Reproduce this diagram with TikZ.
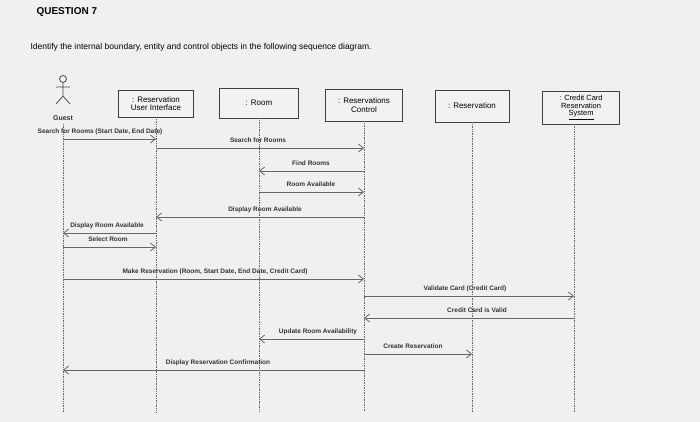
\documentclass[tikz,border=0pt]{standalone}
\usepackage{fontspec}
\setmainfont{Liberation Sans}
\usetikzlibrary{arrows.meta}
\begin{document}
\begin{tikzpicture}[x=1pt,y=-1pt,
 obj/.style={draw=black!75,fill=white!95!black,line width=0.8pt,align=center,font=\fontsize{8}{8.5}\selectfont,inner sep=1pt},
 life/.style={densely dotted,black!60,line width=0.7pt},
 msg/.style={black!60,line width=0.8pt,-{Straight Barb[length=5pt,width=8pt]}},
 lab/.style={font=\fontsize{6.5}{7}\selectfont\bfseries,text=black!80,inner sep=1pt}]
\fill[black!6] (0,0) rectangle (700,422);
\useasboundingbox (0,0) rectangle (700,422);
\node[anchor=west,font=\fontsize{10}{11}\selectfont\bfseries] (t) at (33,12) {QUESTION 7};
\node[anchor=west,font=\fontsize{8.5}{10}\selectfont] (s) at (27,47) {Identify the internal boundary, entity and control objects in the following sequence diagram.};
% actor
\draw[black!70,line width=0.8pt] (63,79) circle (3.5) (63,82.5) -- (63,96) (56,87) -- (70,87) (56,104) -- (63,96) -- (70,104);
\node[lab,font=\fontsize{7}{8}\selectfont\bfseries] (g) at (63,118) {Guest};
\node[obj,minimum width=75,minimum height=27] (ui) at (156,103.5) {: Reservation\\User Interface};
\node[obj,minimum width=79,minimum height=30] (rm) at (259,103) {: Room};
\node[obj,minimum width=77,minimum height=32] (rc) at (364,105) {: Reservations\\Control};
\node[obj,minimum width=74,minimum height=32] (rs) at (472,106) {: Reservation};
\node[obj,minimum width=77,minimum height=33,font=\fontsize{7.5}{7.5}\selectfont] (cc) at (581,107.5) {: Credit Card\\Reservation\\\underline{System}};
\coordinate (g0) at (63,124); \coordinate (g1) at (63,412);
\coordinate (u1) at (156,412); \coordinate (r1) at (259,412);
\coordinate (c1) at (364,412); \coordinate (s1) at (472,412);
\coordinate (k0) at (574,124); \coordinate (k1) at (574,412);
\draw[life] (g0) -- (g1);
\draw[life] (ui.south) -- (u1);
\draw[life] (rm.south) -- (r1);
\draw[life] (rc.south) -- (c1);
\draw[life] (rs.south) -- (s1);
\draw[life] (k0) -- (k1);
\newcommand\mymsg[5]{%
 \coordinate (a) at (#1,#3); \coordinate (b) at (#2,#3);
 \draw[msg] (a) -- (b);
 \node[lab] at (#4,#3-7.5) {#5};}
\mymsg{63}{156}{139}{100}{Search for Rooms (Start Date, End Date)}
\mymsg{156}{364}{148}{258}{Search for Rooms}
\mymsg{364}{259}{171}{311}{Find Rooms}
\mymsg{259}{364}{192}{311}{Room Available}
\mymsg{364}{156}{217}{265}{Display Room Available}
\mymsg{156}{63}{233}{107}{Display Room Available}
\mymsg{63}{156}{247}{108}{Select Room}
\mymsg{63}{364}{279}{215}{Make Reservation (Room, Start Date, End Date, Credit Card)}
\mymsg{364}{574}{296}{465}{Validate Card (Credit Card)}
\mymsg{574}{364}{318}{477}{Credit Card is Valid}
\mymsg{364}{259}{339}{318}{Update Room Availability}
\mymsg{364}{472}{354}{413}{Create Reservation}
\mymsg{364}{63}{370}{218}{Display Reservation Confirmation}
\end{tikzpicture}
\end{document}
